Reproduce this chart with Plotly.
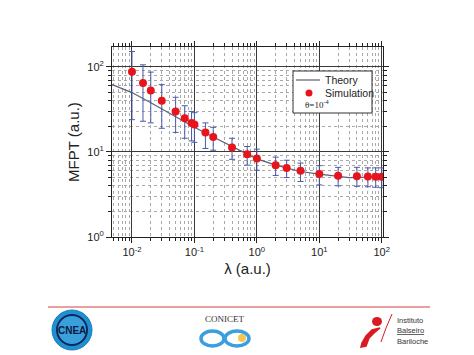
import plotly.graph_objects as go

# ---- data ----
sim_x = [0.01, 0.015, 0.02, 0.03, 0.05, 0.07, 0.09, 0.1, 0.15, 0.2, 0.4, 0.7, 1.0,
         2.0, 3.0, 5.0, 10.0, 20.0, 40.0, 60.0, 80.0, 100.0]
sim_y = [88, 65, 53, 40, 30, 25, 22, 21, 17, 15, 11.3, 9.4, 8.4,
         7.0, 6.5, 6.0, 5.5, 5.25, 5.2, 5.15, 5.1, 5.1]
err_hi = [152, 106, 87, 62, 44, 35, 30, 29, 22, 19.5, 14.5, 11.6, 10.8,
          8.7, 8.0, 7.4, 6.9, 6.6, 6.6, 6.5, 6.5, 6.5]
err_lo = [24, 23, 22, 19, 17, 14.5, 13.5, 13, 11, 10.5, 8.2, 7.0, 6.1,
          5.3, 5.0, 4.5, 4.1, 4.0, 3.95, 3.9, 3.85, 3.8]

theory_x = [0.0048, 0.01, 0.02, 0.05, 0.1, 0.2, 0.5, 1.0, 2.0, 5.0, 10.0, 30.0, 100.0]
theory_y = [62, 50, 38, 26, 19.5, 15, 10.8, 8.3, 7.0, 5.9, 5.5, 5.0, 5.1]

x_tickvals = [0.01, 0.1, 1, 10, 100]
x_ticktext = ["10<sup>-2</sup>", "10<sup>-1</sup>", "10<sup>0</sup>", "10<sup>1</sup>", "10<sup>2</sup>"]
y_tickvals = [1, 10, 100]
y_ticktext = ["10<sup>0</sup>", "10<sup>1</sup>", "10<sup>2</sup>"]

legend_labels = ["Theory", "Simulation"]
theta_label = "θ=10<sup>-4</sup>"

THEORY_COLOR = "#5a5f78"
SIM_COLOR = "#e8141c"
ERR_COLOR = "#4a5aa8"

# ---- figure ----
fig = go.Figure()
fig.add_trace(go.Scatter(
    x=theory_x, y=theory_y, mode="lines", name=legend_labels[0],
    line=dict(color=THEORY_COLOR, width=1.2)))
fig.add_trace(go.Scatter(
    x=sim_x, y=sim_y, mode="markers", name=legend_labels[1],
    marker=dict(color=SIM_COLOR, size=8),
    error_y=dict(type="data", symmetric=False,
                 array=[h - v for h, v in zip(err_hi, sim_y)],
                 arrayminus=[v - l for v, l in zip(sim_y, err_lo)],
                 color=ERR_COLOR, thickness=1, width=3)))

grid_major = "#3a3a3a"
minor = dict(dtick="D1", showgrid=True, gridcolor="#a8a8a8", griddash="dot", gridwidth=1,
             ticks="outside", ticklen=3, tickcolor="#222")
axis_common = dict(type="log", showline=True, linecolor="#222", linewidth=1, mirror="ticks",
                   ticks="outside", ticklen=5, tickcolor="#222",
                   showgrid=True, gridcolor=grid_major, gridwidth=1,
                   tickfont=dict(family="Liberation Sans, Arial", size=11, color="#222"),
                   zeroline=False, minor=minor)

fig.update_xaxes(range=[-2.32, 2.02], tickvals=x_tickvals, ticktext=x_ticktext,
                 title=dict(text="λ (a.u.)", font=dict(family="Liberation Sans, Arial", size=15, color="#222"),
                            standoff=6),
                 **axis_common)
fig.update_yaxes(range=[0, 2.235], tickvals=y_tickvals, ticktext=y_ticktext,
                 title=dict(text="MFPT (a.u.)", font=dict(family="Liberation Sans, Arial", size=15, color="#222"),
                            standoff=4),
                 **axis_common)

W, H = 474, 355
L, R, T, B = 112, 383, 47, 237
def px(x):
    return (x - L) / (R - L)
def py(y):
    return (B - y) / (B - T)

shapes = []
annotations = []
def text(x, y, s, size, color="#222", family="Liberation Sans, Arial", anchor="center"):
    annotations.append(dict(xref="paper", yref="paper", x=px(x), y=py(y), text=s,
                            xanchor=anchor, yanchor="middle", showarrow=False,
                            font=dict(family=family, size=size, color=color)))

# legend box (drawn manually)
shapes.append(dict(type="rect", xref="paper", yref="paper",
                   x0=px(293), x1=px(372), y0=py(113), y1=py(71),
                   line=dict(color="#333", width=1), fillcolor="white", layer="above"))
shapes.append(dict(type="line", xref="paper", yref="paper",
                   x0=px(296), x1=px(320), y0=py(80), y1=py(80),
                   line=dict(color=THEORY_COLOR, width=1.2), layer="above"))
shapes.append(dict(type="circle", xref="paper", yref="paper",
                   x0=px(305.5), x1=px(312.5), y0=py(96.5), y1=py(89.5),
                   line=dict(color=SIM_COLOR, width=0), fillcolor=SIM_COLOR, layer="above"))
text(323, 80, legend_labels[0], 10.5, anchor="left")
text(323, 93, legend_labels[1], 10.5, anchor="left")
text(303, 104, theta_label, 9, family="Liberation Serif, Times New Roman", anchor="left")

# bottom red line
shapes.append(dict(type="line", xref="paper", yref="paper",
                   x0=px(48), x1=px(430), y0=py(307), y1=py(307),
                   line=dict(color="#d04040", width=1)))
# CNEA logo
shapes.append(dict(type="circle", xref="paper", yref="paper",
                   x0=px(52), x1=px(92), y0=py(350), y1=py(310),
                   line=dict(color="#1a7fc0", width=1), fillcolor="#2090d0"))
shapes.append(dict(type="circle", xref="paper", yref="paper",
                   x0=px(57), x1=px(87), y0=py(345), y1=py(315),
                   line=dict(color="#0a2a60", width=2), fillcolor="#3aa0dc"))
text(72, 330, "<b>CNEA</b>", 10, color="#0a1a40", family="Liberation Sans Narrow, Arial Narrow, Arial")
# CONICET logo
text(225, 319, "CONICET", 9, color="#333", family="Liberation Serif, Times New Roman")
shapes.append(dict(type="circle", xref="paper", yref="paper",
                   x0=px(201), x1=px(224), y0=py(346), y1=py(331),
                   line=dict(color="#3a9ee0", width=3.5)))
shapes.append(dict(type="circle", xref="paper", yref="paper",
                   x0=px(225), x1=px(249), y0=py(346), y1=py(331),
                   line=dict(color="#3a9ee0", width=3.5)))
shapes.append(dict(type="circle", xref="paper", yref="paper",
                   x0=px(238), x1=px(246), y0=py(342), y1=py(334),
                   line=dict(color="#f0c040", width=0), fillcolor="#f3c850"))

# Instituto Balseiro logo: red swoosh "i"
def path_paper(points):
    d = "M {:.4f},{:.4f}".format(px(points[0][0]), py(points[0][1]))
    for p in points[1:]:
        d += " L {:.4f},{:.4f}".format(px(p[0]), py(p[1]))
    return d
shapes.append(dict(type="path", xref="paper", yref="paper",
                   path=path_paper([(380, 328), (372, 330), (366, 336), (362, 343), (361, 347),
                                    (366, 346), (369, 338), (374, 333), (380, 328)]) + " Z",
                   line=dict(color="#d81c24", width=1.5), fillcolor="#d81c24"))
shapes.append(dict(type="circle", xref="paper", yref="paper",
                   x0=px(372), x1=px(382), y0=py(326), y1=py(317),
                   line=dict(color="#d81c24", width=0), fillcolor="#d81c24"))
shapes.append(dict(type="path", xref="paper", yref="paper",
                   path=path_paper([(392, 314), (386, 328), (381, 342)]),
                   line=dict(color="#d81c24", width=1)))
text(395, 320, "Instituto", 7.5, color="#333", anchor="left")
text(395, 330, "<u>Balseiro</u>", 7.5, color="#333", anchor="left")
text(395, 341, "Bariloche", 7.5, color="#333", anchor="left")

fig.update_layout(
    width=W, height=H,
    margin=dict(l=L, r=W - R, t=T, b=H - B),
    paper_bgcolor="white", plot_bgcolor="white",
    showlegend=False,
    shapes=shapes, annotations=annotations,
)

fig.write_html("out.html", config={"displayModeBar": False},
               post_script="document.body.style.margin='0';")
